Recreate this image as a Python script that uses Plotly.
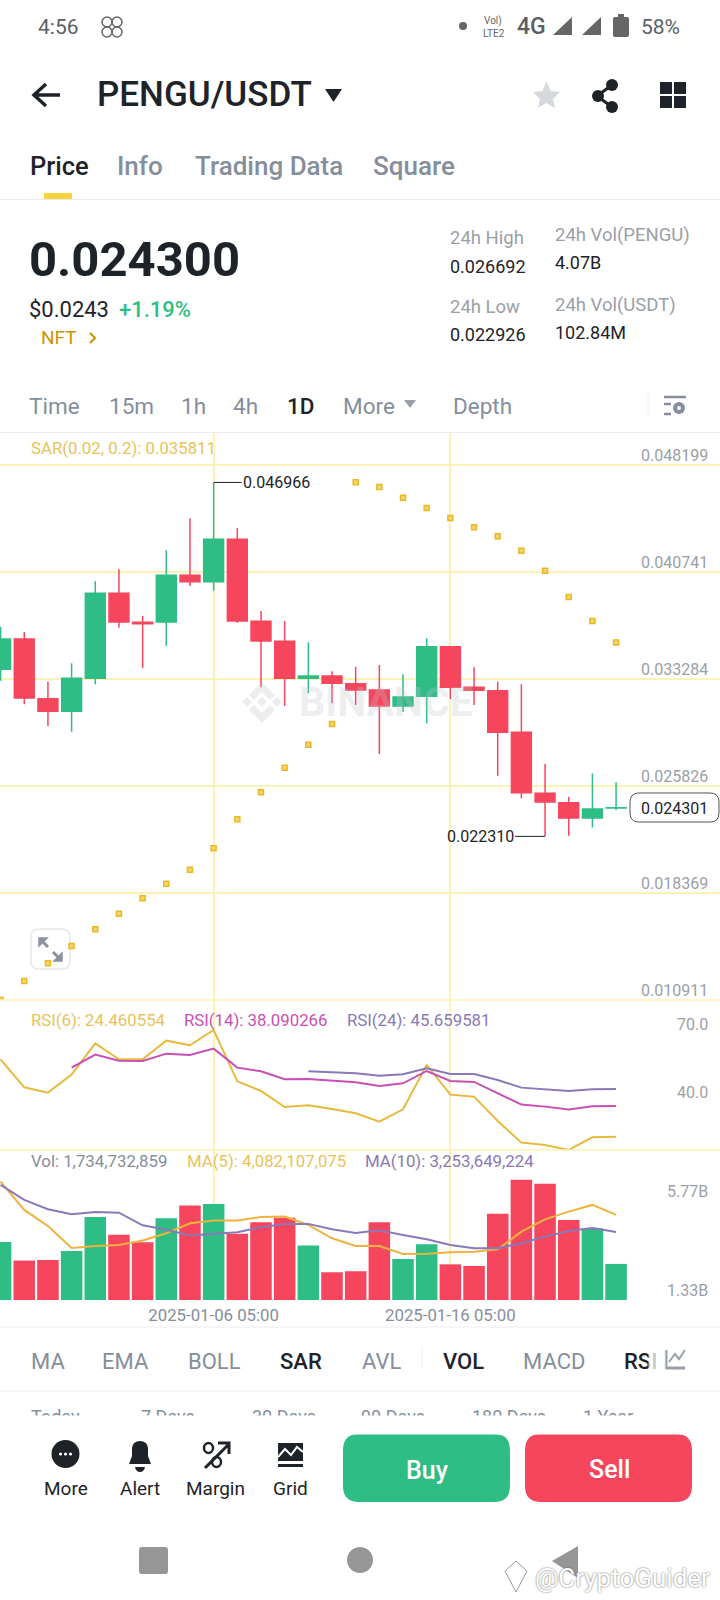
import re
import pandas as pd
import plotly.graph_objects as go

W, H = 720, 1600
FONT = "Roboto"
DARK = "#1e2329"
GRAY = "#848e9c"
AXIS_GRAY = "#9aa0a8"
GREEN = "#2ebd85"
RED = "#f6465d"
GRID = "#fcf2b6"
YEL = "#e8c25a"
PINK = "#c94fb4"
PURPLE = "#8a78b8"

# Daily candles
dates = pd.date_range("2024-12-28 05:00", periods=27, freq="D")
opens = [.033944, .036057, .031901, .031018, .033317, .039238, .037218, .037241, .040492,
         .040051, .043000, .037288, .035895, .033317, .033480, .032946, .032504, .031390,
         .032063, .035523, .032690, .032458, .029555, .025306, .024656, .023588, .024280]
highs = [.036916, .036545, .033085, .034362, .040074, .040910, .037659, .042234, .044463,
         .046966, .043789, .038008, .037311, .035825, .033805, .034130, .034246, .033596,
         .036103, .035523, .034083, .033085, .032899, .027350, .025074, .026692, .026072]
lows = [.033155, .031506, .029996, .029602, .032899, .036846, .034037, .035593, .039749,
        .039424, .037195, .032690, .031390, .032272, .031576, .031459, .028046, .030995,
        .030182, .031877, .031459, .026537, .024958, .022310, .022350, .022926, .024145]
closes = [.036057, .031947, .031018, .033317, .039238, .037241, .037125, .040492, .040051,
          .043000, .037311, .035918, .033317, .033480, .032969, .032504, .031390, .032017,
          .035523, .032690, .032481, .029555, .025353, .024702, .023588, .024215, .024301]
sar = [.010910, .012233, .013464, .014671, .015832, .016924, .017992, .019014, .019989,
       .021475, .023495, .025376, .027094, .028696, .030136, .046970, .046645, .045902,
       .045183, .044486, .043836, .043209, .042210, .040817, .038983, .037311, .035811]

# RSI, the shorter ones start later
rsi6 = [58.84, 46.4, 44.03, 52.03, 65.95, 58.84, 58.84, 67.13, 65.06, 71.87, 49.06, 44.77, 37.66,
        38.4, 36.77, 34.85, 31.14, 36.62, 56.32, 43.14, 42.25, 31.44, 21.81, 20.78, 18.56, 24.18, 24.46]
rsi14 = [None, None, None, 55.14, 60.91, 58.25, 58.1, 61.36, 60.76, 63.58, 55.14, 53.51, 49.95,
         50.1, 49.21, 48.62, 47.0, 48.18, 53.65, 49.21, 48.77, 43.73, 38.7, 37.81, 36.48, 37.96, 38.09]
rsi24 = [None] * 13 + [53.51, 53.06, 52.62, 51.58, 52.17, 54.84, 52.32, 52.32, 49.66, 46.25,
                       45.66, 44.77, 45.51, 45.66]

# Volume in billions
volumes = [2.78, 1.89, 1.92, 2.35, 3.98, 3.13, 2.77, 3.92, 4.53, 4.61, 3.18, 3.73, 3.95, 2.61,
           1.33, 1.38, 3.73, 1.97, 2.67, 1.71, 1.63, 4.14, 5.77, 5.58, 3.84, 3.44, 1.73]
vol_ma5 = [5.68, 4.32, 3.55, 2.49, 2.59, 2.64, 2.85, 3.2, 3.68, 3.81, 3.81, 3.98, 4.0, 3.6,
           2.96, 2.59, 2.59, 2.21, 2.22, 2.29, 2.32, 2.43, 3.28, 3.87, 4.24, 4.56, 4.08]
vol_ma10 = [5.52, 4.8, 4.35, 4.11, 4.22, 4.19, 3.58, 3.37, 3.09, 3.18, 3.25, 3.49, 3.65, 3.65,
            3.39, 3.21, 3.34, 3.12, 2.91, 2.64, 2.48, 2.48, 2.72, 3.04, 3.31, 3.45, 3.26]

price_ticks = [0.048199, 0.040741, 0.033284, 0.025826, 0.018369, 0.010911]
rsi_labels = [70.0, 40.0]
date_ticks = ["2025-01-06 05:00", "2025-01-16 05:00"]


# pixel helpers, the whole phone screen is drawn on paper coords
def fx(x):
    return x / W


def fy(y):
    return 1 - y / H


def svg(d):
    flag = [True]

    def conv(m):
        v = float(m.group())
        out = fx(v) if flag[0] else fy(v)
        flag[0] = not flag[0]
        return f"{out:.5f}"
    return re.sub(r"-?\d+\.?\d*", conv, d)


shapes = []
annots = []


def path(d, fill=None, line=None, width=0, layer="above"):
    shapes.append(dict(type="path", xref="paper", yref="paper", path=svg(d), layer=layer,
                       fillcolor=fill or "rgba(0,0,0,0)",
                       line=dict(color=line or "rgba(0,0,0,0)", width=width)))


def rrect(x0, y0, x1, y1, r):
    return (f"M{x0+r} {y0} L{x1-r} {y0} Q{x1} {y0} {x1} {y0+r} L{x1} {y1-r} Q{x1} {y1} {x1-r} {y1} "
            f"L{x0+r} {y1} Q{x0} {y1} {x0} {y1-r} L{x0} {y0+r} Q{x0} {y0} {x0+r} {y0} Z")


def circle(cx, cy, r, fill, ry=None):
    ry = ry or r
    shapes.append(dict(type="circle", xref="paper", yref="paper", x0=fx(cx-r), x1=fx(cx+r),
                       y0=fy(cy+ry), y1=fy(cy-ry), fillcolor=fill, line=dict(width=0)))


def hline(x0, x1, y, color="#eaecef", width=1):
    shapes.append(dict(type="line", xref="paper", yref="paper", x0=fx(x0), x1=fx(x1), y0=fy(y), y1=fy(y),
                       line=dict(color=color, width=width)))


def vline(x, y0, y1, color="#eaecef", width=1):
    shapes.append(dict(type="line", xref="paper", yref="paper", x0=fx(x), x1=fx(x), y0=fy(y0), y1=fy(y1),
                       line=dict(color=color, width=width)))


def text(x, y, s, size, color=DARK, anchor="left", weight=400):
    annots.append(dict(xref="paper", yref="paper", x=fx(x), y=fy(y), text=s, showarrow=False,
                       xanchor=anchor, yanchor="middle", borderpad=0,
                       font=dict(family=FONT, size=size, color=color, weight=weight)))


# status bar
text(37, 27, "4:56", 21, "#5a5f66")
for dx, dy in [(-5, -5), (5, -5), (-5, 5), (5, 5)]:
    shapes.append(dict(type="circle", xref="paper", yref="paper", x0=fx(112+dx-5), x1=fx(112+dx+5),
                       y0=fy(27+dy+5), y1=fy(27+dy-5), line=dict(color="#666", width=1.5)))
circle(463, 26, 4, "#666")
text(483, 21, "Vol)", 10, "#666")
text(482, 33, "LTE2", 10, "#666")
text(516, 27, "4G", 23, "#5a5f66", weight=500)
path("M553 35 L572 35 L572 17 Z", fill="#666")
path("M582 35 L601 35 L601 17 Z", fill="#666")
path(rrect(613, 17, 629, 37, 2), fill="#666")
path("M618 14 L624 14 L624 17 L618 17 Z", fill="#666")
text(640, 27, "58%", 21, "#5a5f66")

# header
path("M60 95 L35 95 M46 84 L34 95 L46 106", line=DARK, width=3.5)
text(96, 95, "PENGU/USDT", 35, DARK, weight=500)
path("M325 89 L342 89 L333.5 102 Z", fill=DARK)
path("M546.5 81 L550.5 91 L560 92 L553 99 L555 108 L546.5 103 L538 108 L540 99 L533 92 L542.5 91 Z", fill="#d5d9dd")
path("M612 85 L597 96 L612 107", line=DARK, width=3)
circle(612, 85, 6, DARK)
circle(612, 107, 6, DARK)
circle(598, 96, 6, DARK)
for gx, gy in [(660, 82), (674, 82), (660, 96), (674, 96)]:
    path(f"M{gx} {gy} L{gx+12} {gy} L{gx+12} {gy+12} L{gx} {gy+12} Z", fill=DARK)

# tabs
text(29, 166, "Price", 25.5, DARK, weight=500)
text(116, 166, "Info", 26, GRAY, weight=500)
text(194, 166, "Trading Data", 26, GRAY, weight=500)
text(372, 166, "Square", 26, GRAY, weight=500)
path("M44 193 L72 193 L72 199 L44 199 Z", fill="#f8d33a")
hline(0, W, 199.5)

# price block
text(28, 259, "0.024300", 49, DARK, weight=700)
text(28, 309, "$0.0243", 22, DARK)
text(118, 309, "+1.19%", 22, GREEN, weight=500)
text(40, 338, "NFT", 19, "#c99400")
path("M90 333 L95 338 L90 343", line="#c99400", width=2)
text(449, 238, "24h High", 18.5, AXIS_GRAY)
text(449, 266, "0.026692", 18, DARK)
text(449, 307, "24h Low", 18.5, AXIS_GRAY)
text(449, 334, "0.022926", 18, DARK)
text(554, 235, "24h Vol(PENGU)", 18.5, AXIS_GRAY)
text(554, 262, "4.07B", 18, DARK)
text(554, 305, "24h Vol(USDT)", 18.5, AXIS_GRAY)
text(554, 332, "102.84M", 18, DARK)

# interval row
for lx, lab, col in [(28, "Time", GRAY), (108, "15m", GRAY), (180, "1h", GRAY), (232, "4h", GRAY),
                     (286, "1D", DARK), (342, "More", GRAY), (452, "Depth", GRAY)]:
    text(lx, 406, lab, 22.5, col, weight=500 if col == DARK else 400)
path("M404 400 L416 400 L410 408 Z", fill=AXIS_GRAY)
vline(648, 392, 416)
hline(664, 686, 397, color=GRAY, width=2.5)
hline(664, 671, 404, color=GRAY, width=2.5)
hline(664, 671, 414, color=GRAY, width=2.5)
circle(679, 408, 6, GRAY)
circle(679, 408, 2, "white")
hline(0, W, 432.5)

# the pane edges fall on the axis ends, plotly drops those gridlines
hline(0, W, 1000, color=GRID, width=1.5)
hline(0, W, 1150, color=GRID, width=1.5)

# chart overlays
text(30, 448, "SAR(0.02, 0.2): 0.035811", 16.8, YEL)
for t in price_ticks:
    annots.append(dict(xref="paper", yref="y", x=fx(709), y=t, text=f"{t:.6f}", showarrow=False,
                       xanchor="right", yanchor="bottom", yshift=-1, borderpad=0,
                       font=dict(family=FONT, size=16, color=AXIS_GRAY)))
for r in rsi_labels:
    annots.append(dict(xref="paper", yref="y2", x=fx(709), y=r, text=f"{r:.1f}", showarrow=False,
                       xanchor="right", yanchor="bottom", yshift=-1, borderpad=0,
                       font=dict(family=FONT, size=16, color=AXIS_GRAY)))
text(709, 1191, "5.77B", 16, AXIS_GRAY, anchor="right")
text(709, 1290, "1.33B", 16, AXIS_GRAY, anchor="right")
text(30, 1020, "RSI(6): 24.460554", 16.8, YEL)
text(183, 1020, "RSI(14): 38.090266", 16.8, PINK)
text(346, 1020, "RSI(24): 45.659581", 16.8, PURPLE)
text(30, 1161, "Vol: 1,734,732,859", 16.8, GRAY)
text(186, 1161, "MA(5): 4,082,107,075", 16.8, YEL)
text(364, 1161, "MA(10): 3,253,649,224", 16.8, PURPLE)

# callouts for the extremes
annots.append(dict(x=dates[9], y=max(highs), xref="x", yref="y", text=f"{max(highs):.6f}", showarrow=True,
                   arrowhead=0, arrowwidth=1, arrowcolor=DARK, ax=28, ay=0, xanchor="left", borderpad=0,
                   font=dict(family=FONT, size=16, color=DARK)))
annots.append(dict(x=dates[23], y=min(lows), xref="x", yref="y", text=f"{min(lows):.6f}", showarrow=True,
                   arrowhead=0, arrowwidth=1, arrowcolor=DARK, ax=-30, ay=0, xanchor="right", borderpad=0,
                   font=dict(family=FONT, size=16, color=DARK)))

# last price tag
path(rrect(630, 793, 719, 822, 9), fill="white", line="#555", width=1)
text(640, 808, f"{closes[-1]:.6f}", 16, DARK)

# watermark
text(298, 702, "BINANCE", 41, "rgba(190,196,203,0.30)", weight=700)
path("M262 682 L275 695 L270 700 L262 692 L254 700 L249 695 Z M262 723 L275 710 L270 705 L262 713 L254 705 L249 710 Z "
     "M247 697 L252 702 L247 707 L242 702 Z M277 697 L282 702 L277 707 L272 702 Z M262 697 L267 702 L262 707 L257 702 Z",
     fill="rgba(190,196,203,0.30)")

# expand button, sits under the SAR dots
path(rrect(31, 929, 70, 969, 8), fill="white", line="#e6e8ea", width=1.5, layer="below")
path("M39 938 L47 938 L39 946 Z M62 961 L54 961 L62 953 Z", fill="#8a93a0", line="#8a93a0", width=1.5, layer="below")
path("M42 941 L48 947 M53 952 L59 958", line="#8a93a0", width=3, layer="below")

# indicator row
hline(0, W, 1327)
for lx, lab, col in [(30, "MA", GRAY), (101, "EMA", GRAY), (187, "BOLL", GRAY), (279, "SAR", DARK),
                     (361, "AVL", GRAY), (442, "VOL", DARK), (522, "MACD", GRAY), (623, "RSI", DARK)]:
    text(lx, 1361, lab, 22, col, weight=500 if col == DARK else 400)
vline(422, 1347, 1368)
# fade over the last letter of RSI
annots.append(dict(xref="paper", yref="paper", x=fx(648), y=fy(1349), text=" ", showarrow=False, xanchor="left",
                   yanchor="top", width=16, height=26, bgcolor="rgba(255,255,255,0.75)", borderpad=0))
path("M666 1350 L666 1368 L685 1368", line=AXIS_GRAY, width=3)
path("M669 1362 L675 1354 L679 1359 L685 1350", line=AXIS_GRAY, width=2)
hline(0, W, 1391)

# range row, half hidden by the button bar
for lx, lab in [(30, "Today"), (140, "7 Days"), (251, "30 Days"), (360, "90 Days"), (471, "180 Days"), (582, "1 Year")]:
    text(lx, 1416, lab, 18, GRAY)
annots.append(dict(xref="paper", yref="paper", x=0, y=fy(1415), text=" ", showarrow=False, xanchor="left",
                   yanchor="top", width=W, height=18, bgcolor="white", borderpad=0))

# bottom bar
circle(65.5, 1454, 14, DARK)
for dx in (-5, 0, 5):
    circle(65.5 + dx, 1454, 1.6, "white")
path("M129 1464 L151 1464 L148 1456 L148 1448 Q147 1441 140 1441 Q133 1441 132 1448 L132 1456 Z", fill=DARK)
path("M135 1467 L145 1467 Q144 1472 140 1472 Q136 1472 135 1467 Z", fill=DARK)
path("M205 1468 L228 1445 M218 1443 L229 1443 L229 1454", line=DARK, width=3)
circle(209, 1448, 4, "white")
shapes.append(dict(type="circle", xref="paper", yref="paper", x0=fx(204), x1=fx(213), y0=fy(1453), y1=fy(1443),
                   line=dict(color=DARK, width=2.5)))
shapes.append(dict(type="circle", xref="paper", yref="paper", x0=fx(212), x1=fx(221), y0=fy(1467), y1=fy(1457),
                   line=dict(color=DARK, width=2.5)))
path("M278 1443 L303 1443 L303 1461 L278 1461 Z", fill=DARK)
path("M278 1457 L285 1449 L291 1455 L297 1447 L303 1452", line="white", width=2)
path("M278 1464 L303 1464 L303 1467 L278 1467 Z", fill=DARK)
for cx, lab in [(65.5, "More"), (140, "Alert"), (215.5, "Margin"), (290, "Grid")]:
    text(cx, 1488, lab, 19, DARK, anchor="center")
path(rrect(343, 1434, 510, 1502, 16), fill=GREEN)
path(rrect(525, 1434, 692, 1502, 16), fill=RED)
text(427, 1470, "Buy", 25, "white", anchor="center", weight=500)
text(609, 1469, "Sell", 25, "white", anchor="center", weight=500)

# android nav buttons and the poster's tag
path(rrect(139, 1547, 168, 1574, 3), fill="#969696")
circle(360, 1560, 13, "#969696", ry=13)
path("M552 1561 L578 1546 L578 1578 Z", fill="#969696")
annots.append(dict(xref="paper", yref="paper", x=fx(534), y=fy(1578), text="@CryptoGuider", showarrow=False,
                   xanchor="left", yanchor="middle", borderpad=0,
                   font=dict(family=FONT, size=26, color="white", shadow="0 0 2px #555")))
path("M505 1571 L516 1561 L527 1571 L516 1592 Z", line="#999", width=1)

fig = go.Figure()
fig.add_trace(go.Candlestick(
    x=dates, open=opens, high=highs, low=lows, close=closes, whiskerwidth=0,
    increasing=dict(line=dict(color=GREEN, width=1.5), fillcolor=GREEN),
    decreasing=dict(line=dict(color=RED, width=1.5), fillcolor=RED),
    xaxis="x", yaxis="y",
))
fig.add_trace(go.Scatter(
    x=dates, y=sar, mode="markers", xaxis="x", yaxis="y",
    marker=dict(symbol="square", size=5, color="#f5d76e", line=dict(color="#e9b824", width=1.5)),
))
for vals, col in [(rsi6, "#e6b93f"), (rsi14, PINK), (rsi24, PURPLE)]:
    fig.add_trace(go.Scatter(x=dates, y=vals, mode="lines", xaxis="x", yaxis="y2", line=dict(color=col, width=2)))

bar_colors = [GREEN if c >= o else RED for o, c in zip(opens, closes)]
fig.add_trace(go.Bar(x=dates, y=volumes, marker=dict(color=bar_colors, line=dict(width=0)), xaxis="x", yaxis="y3"))
fig.add_trace(go.Scatter(x=dates, y=vol_ma5, mode="lines", xaxis="x", yaxis="y3", line=dict(color="#eeb33c", width=2)))
fig.add_trace(go.Scatter(x=dates, y=vol_ma10, mode="lines", xaxis="x", yaxis="y3", line=dict(color=PURPLE, width=2)))

x_start = pd.Timestamp("2024-12-28 05:00") - pd.Timedelta(days=0.025)
x_end = pd.Timestamp("2024-12-28 05:00") + pd.Timedelta(days=30.39)

fig.update_layout(
    width=W, height=H, autosize=False,
    margin=dict(l=0, r=0, t=0, b=0),
    paper_bgcolor="white", plot_bgcolor="white",
    showlegend=False, boxgap=0.16, boxgroupgap=0, bargap=0.09,
    shapes=shapes, annotations=annots,
    xaxis=dict(domain=[0, 1], anchor="y3", type="date", range=[x_start, x_end], rangeslider=dict(visible=False),
               tickvals=date_ticks, tickformat="%Y-%m-%d %H:%M", ticks="", ticklabelstandoff=3,
               showgrid=True, gridcolor=GRID, gridwidth=1.5,
               zeroline=False, showline=False, tickfont=dict(family=FONT, size=16.8, color=GRAY)),
    yaxis=dict(domain=[fy(1000), fy(433)], range=[0.010911, 0.050408], tickvals=price_ticks, showticklabels=False,
               gridcolor=GRID, gridwidth=1.5, zeroline=False, anchor="x"),
    yaxis2=dict(domain=[fy(1150), fy(1000)], range=[18.53, 85.2], tickvals=[18.53], showticklabels=False,
                gridcolor=GRID, gridwidth=1.5, zeroline=False, anchor="x"),
    yaxis3=dict(domain=[fy(1300), fy(1150)], range=[0, 7.194], tickvals=[0], showticklabels=False,
                gridcolor=GRID, gridwidth=1.5, zeroline=False, anchor="x"),
)

fig.write_html("out.html", config={"displayModeBar": False}, post_script="document.body.style.margin='0';")
